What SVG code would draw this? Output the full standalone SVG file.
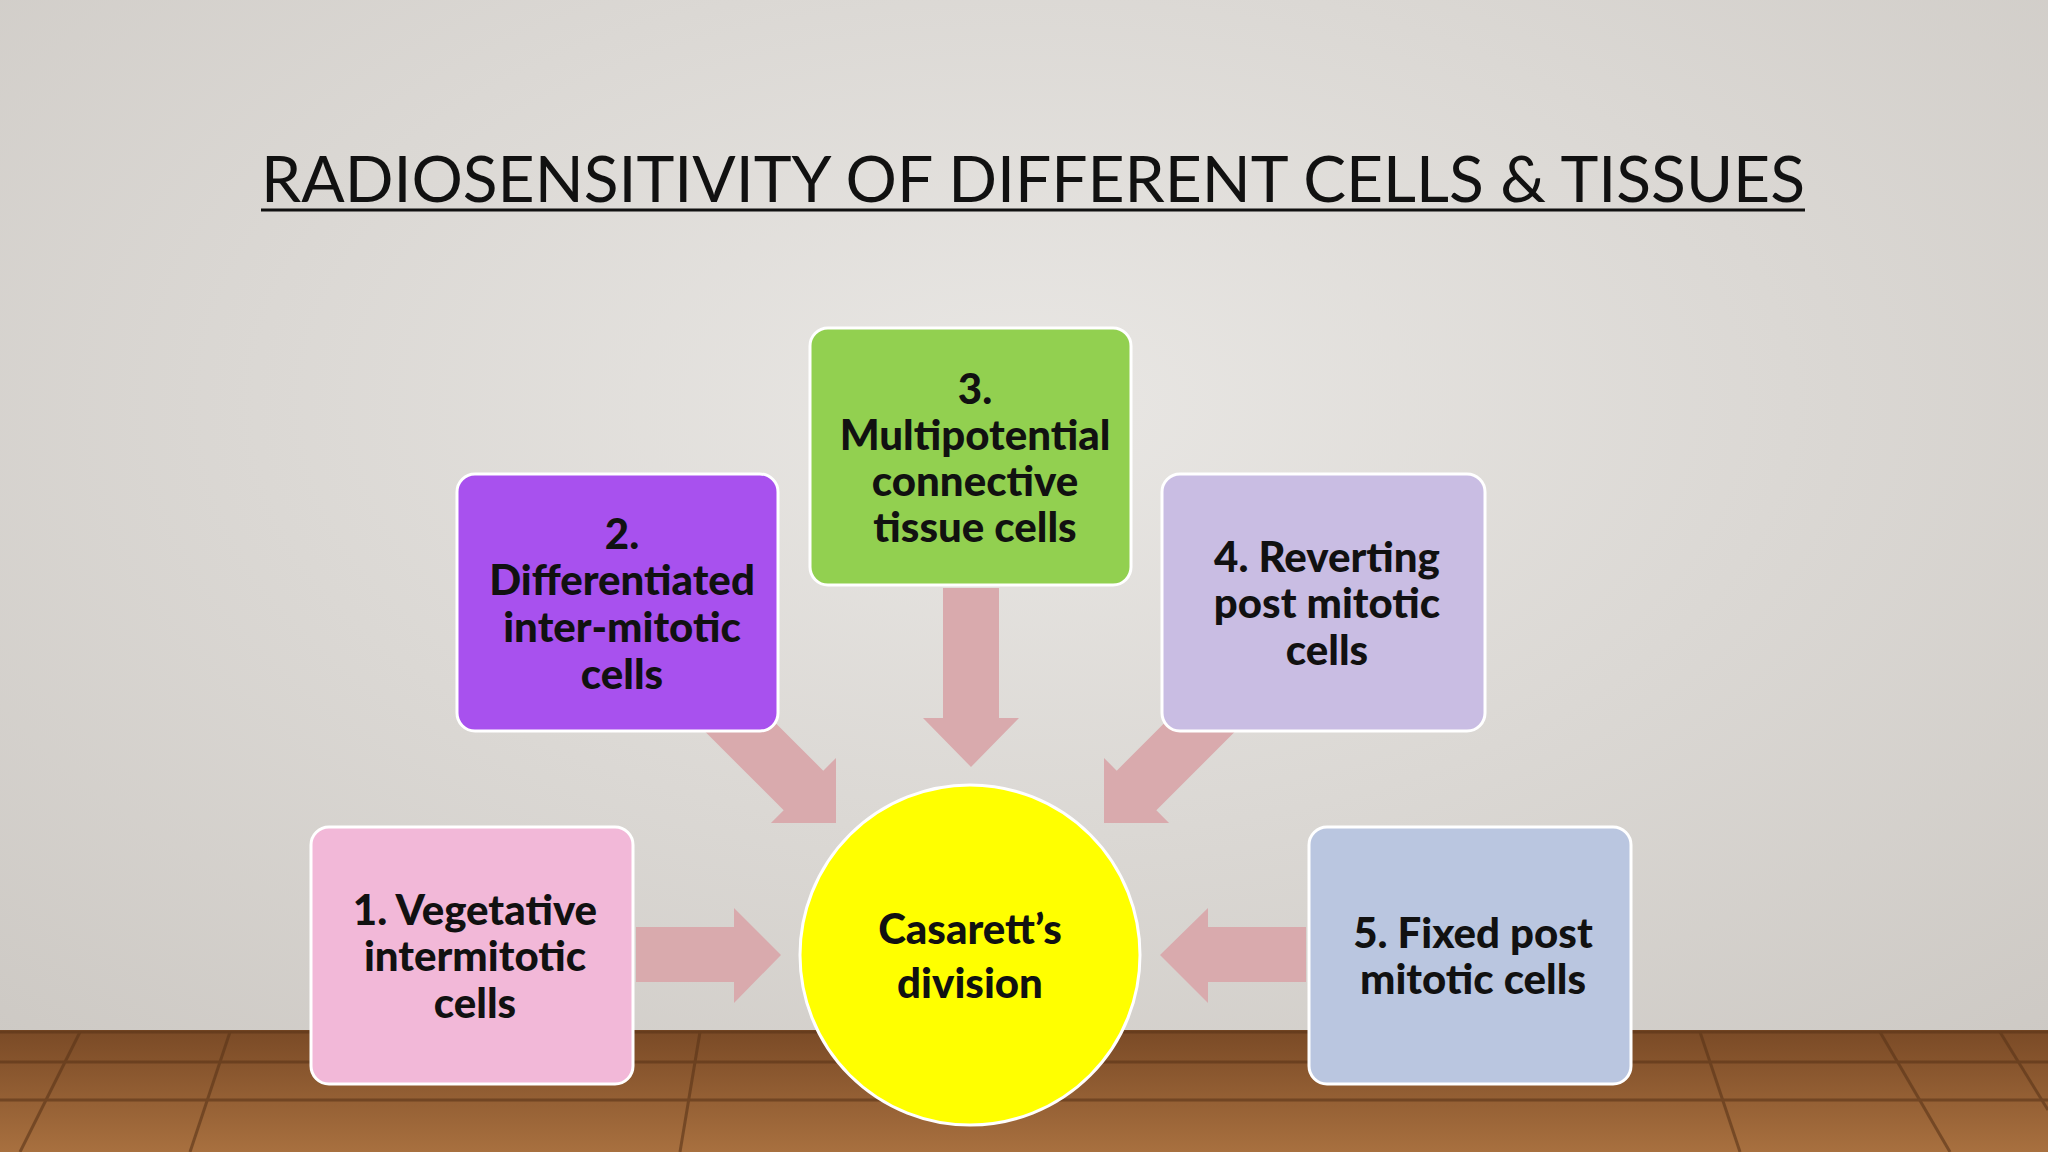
<svg xmlns="http://www.w3.org/2000/svg" width="2048" height="1152" viewBox="0 0 2048 1152">
<defs>
<radialGradient id="bg" cx="0.5" cy="0.35" r="0.75"><stop offset="0" stop-color="#e9e7e4"/><stop offset="1" stop-color="#cdc9c4"/></radialGradient>
<linearGradient id="floor" x1="0" y1="0" x2="0" y2="1"><stop offset="0" stop-color="#7a4a26"/><stop offset="1" stop-color="#a8703f"/></linearGradient>
<style>
.box{stroke:#fff;stroke-width:3}
.t{font-family:Lato,"Open Sans","DejaVu Sans",sans-serif;font-weight:900;font-size:42px;text-anchor:middle;dominant-baseline:central;fill:#111}
.arr{fill:#d9aaad}
.plank{stroke:#5a3418;stroke-width:3;opacity:.6}
</style>
</defs>
<rect width="2048" height="1152" fill="url(#bg)"/>
<rect y="1030" width="2048" height="122" fill="url(#floor)"/>
<g class="plank">
<line x1="0" y1="1032" x2="2048" y2="1032"/>
<line x1="0" y1="1062" x2="2048" y2="1062"/>
<line x1="0" y1="1100" x2="2048" y2="1100"/>
<line x1="80" y1="1032" x2="20" y2="1152"/><line x1="230" y1="1032" x2="190" y2="1152"/>
<line x1="700" y1="1032" x2="680" y2="1152"/><line x1="1700" y1="1032" x2="1740" y2="1152"/>
<line x1="1880" y1="1032" x2="1950" y2="1152"/><line x1="2000" y1="1032" x2="2048" y2="1110"/>
</g>
<text x="1033" y="202" font-family="Lato,'Open Sans',sans-serif" font-size="64" text-anchor="middle" fill="#111" textLength="1544" lengthAdjust="spacingAndGlyphs">RADIOSENSITIVITY OF DIFFERENT CELLS &amp; TISSUES</text>
<line x1="261" y1="210" x2="1805" y2="210" stroke="#111" stroke-width="3"/>
<g id="connectors">
<polygon class="arr" points="943,588 999,588 999,718 1019,718 971,767 923,718 943,718"/>
<polygon class="arr" points="636,927 734,927 734,908 781,955 734,1003 734,982 636,982"/>
<polygon class="arr" points="1306,927 1208,927 1208,908 1160,955 1208,1003 1208,982 1306,982"/>
<polygon class="arr" transform="translate(836,823) rotate(45)" points="-170,-28 -46,-28 -46,-46 0,0 -46,46 -46,28 -170,28"/>
<polygon class="arr" transform="translate(1104,823) rotate(135)" points="-170,-28 -46,-28 -46,-46 0,0 -46,46 -46,28 -170,28"/>
</g>
<g id="n1"><rect class="box" x="311" y="827" width="322" height="257" rx="18" fill="#f2b8d8"/>
<text class="t" x="475" y="909">1. Vegetative</text><text class="t" x="475" y="955">intermitotic</text><text class="t" x="475" y="1002">cells</text></g>
<g id="n2"><rect class="box" x="457" y="474" width="321" height="257" rx="18" fill="#a851ee"/>
<text class="t" x="622" y="533">2.</text><text class="t" x="622" y="579">Differentiated</text><text class="t" x="622" y="626">inter-mitotic</text><text class="t" x="622" y="673">cells</text></g>
<g id="n3"><rect class="box" x="810" y="328" width="321" height="257" rx="18" fill="#92d050"/>
<text class="t" x="975" y="388" font-size="40">3.</text><text class="t" x="975" y="434" font-size="40">Multipotential</text><text class="t" x="975" y="480" font-size="40">connective</text><text class="t" x="975" y="526" font-size="40">tissue cells</text></g>
<g id="n4"><rect class="box" x="1162" y="474" width="323" height="257" rx="18" fill="#c9bde3"/>
<text class="t" x="1327" y="556">4. Reverting</text><text class="t" x="1327" y="602">post mitotic</text><text class="t" x="1327" y="649">cells</text></g>
<g id="n5"><rect class="box" x="1309" y="827" width="322" height="257" rx="18" fill="#bac6e0"/>
<text class="t" x="1473" y="932">5. Fixed post</text><text class="t" x="1473" y="978">mitotic cells</text></g>
<g id="center"><circle cx="970" cy="955" r="170" fill="#ffff00" stroke="#fff" stroke-width="3"/>
<text class="t" x="970" y="928" font-size="50">Casarett’s</text><text class="t" x="970" y="982" font-size="50">division</text></g>
</svg>
